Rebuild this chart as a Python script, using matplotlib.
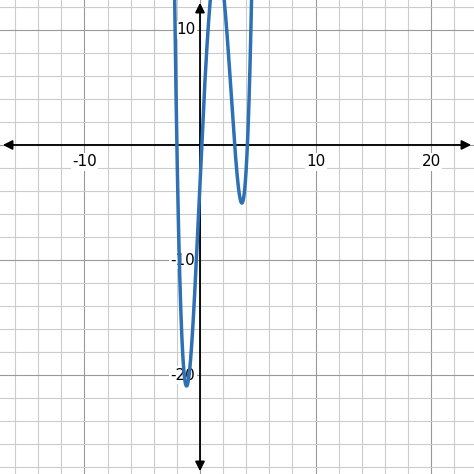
import numpy as np
import matplotlib.pyplot as plt

roots = [-2.0, 0.15, 3.0, 4.1]
lead = 0.87
xlim = (-17.3, 23.7)
ylim = (-28.6, 12.6)
xticks = [-10, 10, 20]
yticks = [10, -10, -20]

fig = plt.figure(figsize=(4.74, 4.74), dpi=100)
ax = fig.add_axes([0, 0, 1, 1])
ax.set_xlim(*xlim); ax.set_ylim(*ylim)
for s in ax.spines.values(): s.set_visible(False)
ax.set_xticks([]); ax.set_yticks([])
for gx in np.arange(-16, 24, 2):
    ax.axvline(gx, color='#cccccc' if gx % 10 else '#999999', lw=0.8, zorder=0)
for gy in np.arange(-28, 14, 2):
    ax.axhline(gy, color='#cccccc' if gy % 10 else '#999999', lw=0.8, zorder=0)
ax.annotate('', xy=(xlim[1], 0), xytext=(xlim[0], 0),
            arrowprops=dict(arrowstyle='<|-|>', color='black', lw=1.3, mutation_scale=14))
ax.annotate('', xy=(0, ylim[1]), xytext=(0, ylim[0]),
            arrowprops=dict(arrowstyle='<|-|>', color='black', lw=1.3, mutation_scale=14))
coeffs = lead * np.poly(roots)
x = np.linspace(-3, 5, 2000)
y = np.polyval(coeffs, x)
ax.plot(x, y, color='#2d70b3', lw=2.5, zorder=3)
for t in xticks:
    ax.text(t, -0.8, str(t), ha='center', va='top', fontsize=11,
            bbox=dict(facecolor='white', edgecolor='none', pad=1), zorder=2)
for t in yticks:
    ax.text(-0.4, t, str(t), ha='right', va='center', fontsize=11,
            bbox=dict(facecolor='white', edgecolor='none', pad=1), zorder=2)
fig.savefig('out.png', dpi=100)
